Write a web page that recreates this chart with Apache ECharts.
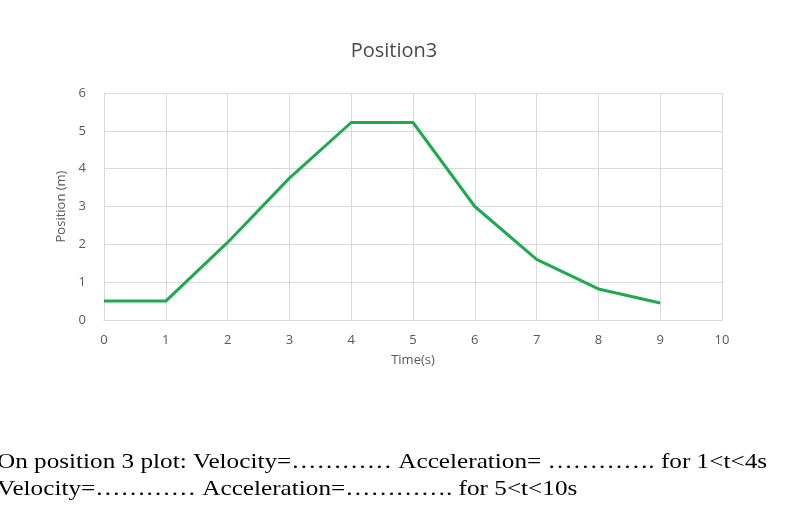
<!DOCTYPE html>
<html><head><meta charset="utf-8">
<script src="https://cdn.jsdelivr.net/npm/echarts@6/dist/echarts.min.js"></script>
<style>html,body{margin:0;padding:0;background:#fff}#c{width:788px;height:526px}</style>
</head><body><div id="c"></div>
<script>
const times = [0,1,2,3,4,5,6,7,8,9];
const positions = [0.5,0.5,2.05,3.75,5.22,5.22,3.0,1.6,0.82,0.45];
const xTicks = [0,1,2,3,4,5,6,7,8,9,10];
const yTicks = [0,1,2,3,4,5,6];
const chart = echarts.init(document.getElementById('c'));
const ax = {color:'#595959', fontFamily:'Open Sans', fontSize:13};
chart.setOption({
  animation:false,
  title:{text:'Position3', left:'center', top:36, textStyle:{fontFamily:'Open Sans', fontWeight:'normal', fontSize:20, color:'#4a4a4a'}},
  grid:{left:104, right:66, top:93, bottom:206},
  xAxis:{type:'value', min:0, max:10, interval:1, name:'Time(s)', nameLocation:'middle', nameGap:34,
    nameTextStyle:ax, axisLabel:Object.assign({margin:14},ax),
    axisLine:{show:true,lineStyle:{color:'#d9d9d9'}}, axisTick:{show:false},
    splitLine:{show:true,lineStyle:{color:'#d9d9d9'}}},
  yAxis:{type:'value', min:0, max:6, interval:1, name:'Position (m)', nameLocation:'middle', nameGap:36,
    nameTextStyle:ax, axisLabel:Object.assign({margin:18},ax),
    axisLine:{show:true,lineStyle:{color:'#d9d9d9'}}, axisTick:{show:false},
    splitLine:{show:true,lineStyle:{color:'#d9d9d9'}}},
  series:[{type:'line', data:times.map((t,i)=>[t,positions[i]]), showSymbol:false,
    lineStyle:{color:'#1faa4f', width:3}}],
  graphic:[
    {type:'text', x:-3, y:452, scaleX:1.2, style:{text:'On position 3 plot: Velocity=………… Acceleration= …………. for 1<t<4s', font:'21px "Liberation Serif"', fill:'#000'}},
    {type:'text', x:-3, y:479, scaleX:1.2, style:{text:'Velocity=………… Acceleration=…………. for 5<t<10s', font:'21px "Liberation Serif"', fill:'#000'}}
  ]
});
</script></body></html>
